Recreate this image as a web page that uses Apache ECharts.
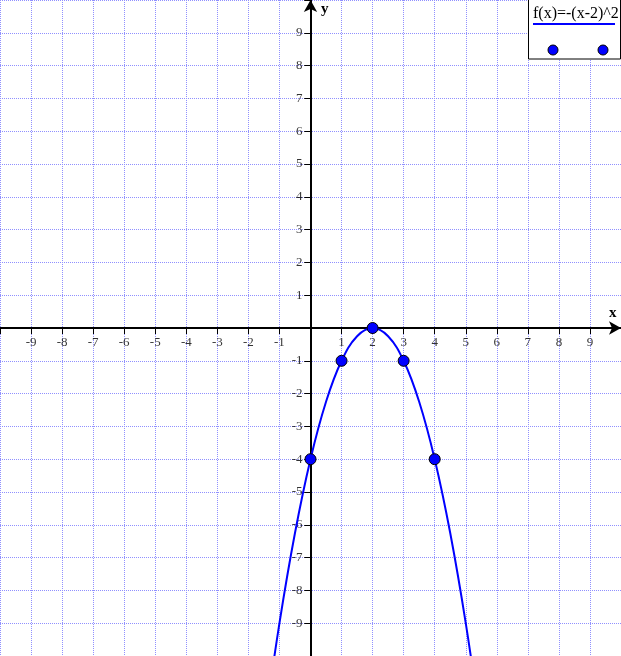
<!DOCTYPE html>
<html>
<head>
<meta charset="utf-8">
<script src="https://cdn.jsdelivr.net/npm/echarts@6/dist/echarts.min.js"></script>
<style>
  html, body { margin: 0; padding: 0; background: #fff; }
  #main { width: 621px; height: 656px; }
</style>
</head>
<body>
<div id="main"></div>
<script>
// points read along the curve f(x) = -(x-2)^2
var curveX = [-1.5, -1, -0.5, 0, 0.5, 1, 1.5, 2, 2.5, 3, 3.5, 4, 4.5, 5, 5.5];
var curveY = [-12.25, -9, -6.25, -4, -2.25, -1, -0.25, 0, -0.25, -1, -2.25, -4, -6.25, -9, -12.25];
// marked points
var pointX = [0, 1, 2, 3, 4];
var pointY = [-4, -1, 0, -1, -4];
// tick labels along the axes
var xTicks = [-9, -8, -7, -6, -5, -4, -3, -2, -1, 1, 2, 3, 4, 5, 6, 7, 8, 9];
var yTicks = [-9, -8, -7, -6, -5, -4, -3, -2, -1, 1, 2, 3, 4, 5, 6, 7, 8, 9];
var axisMin = -10, axisMax = 10, step = 1;
var legendText = 'f(x)=-(x-2)^2';

var serif = 'Liberation Serif';
var gridColor = '#9090ff';
var blue = '#0000ff';

function zip(xs, ys) {
    return xs.map(function (x, i) { return [x, ys[i]]; });
}

var chart = echarts.init(document.getElementById('main'));

var baseAxis = {
    type: 'value',
    min: axisMin,
    max: axisMax,
    interval: step
};

// tick labels are drawn as label-only scatter points sitting on the axes
function tickSeries(data, pos, dist, pick) {
    return {
        type: 'scatter',
        data: data,
        symbolSize: 0,
        silent: true,
        label: {
            show: true, position: pos, distance: dist,
            color: '#000', fontFamily: serif, fontSize: 13,
            formatter: function (p) { return String(p.value[pick]); }
        },
        z: 2
    };
}

var option = {
    backgroundColor: '#fff',
    animation: false,
    grid: { left: 0, right: 0, top: 0, bottom: 0, containLabel: false, outerBoundsMode: 'none' },
    xAxis: [
        Object.assign({}, baseAxis, {
            axisLine: { onZero: true, onZeroAxisIndex: 0, lineStyle: { color: '#000', width: 2 },
                symbol: ['none', 'arrow'], symbolSize: [10, 12] },
            axisTick: { show: true, inside: false, length: 6, lineStyle: { color: '#000', width: 1 } },
            axisLabel: { show: false },
            splitLine: { show: true, lineStyle: { color: gridColor, type: [1, 1], width: 1 } }
        }),
        Object.assign({}, baseAxis, {
            axisLine: { onZero: true, onZeroAxisIndex: 0, lineStyle: { color: '#000', width: 2 } },
            axisTick: { show: true, inside: true, length: 6, lineStyle: { color: '#000', width: 1 } },
            axisLabel: { show: false },
            splitLine: { show: false }
        })
    ],
    yAxis: [
        Object.assign({}, baseAxis, {
            axisLine: { onZero: true, onZeroAxisIndex: 0, lineStyle: { color: '#000', width: 2 },
                symbol: ['none', 'arrow'], symbolSize: [10, 12] },
            axisTick: { show: true, inside: false, length: 6, lineStyle: { color: '#000', width: 1 } },
            axisLabel: { show: false },
            splitLine: { show: true, lineStyle: { color: gridColor, type: [1, 1], width: 1 } }
        }),
        Object.assign({}, baseAxis, {
            axisLine: { onZero: true, onZeroAxisIndex: 0, lineStyle: { color: '#000', width: 2 } },
            axisTick: { show: true, inside: true, length: 6, lineStyle: { color: '#000', width: 1 } },
            axisLabel: { show: false },
            splitLine: { show: false }
        })
    ],
    series: [
        tickSeries(xTicks.map(function (v) { return [v, 0]; }), 'bottom', 8, 0),
        tickSeries(yTicks.map(function (v) { return [0, v]; }), 'left', 8, 1),
        {
            name: legendText,
            type: 'line',
            data: zip(curveX, curveY),
            smooth: 0.4,
            showSymbol: false,
            clip: true,
            lineStyle: { color: blue, width: 2 },
            z: 3
        },
        {
            type: 'scatter',
            data: zip(pointX, pointY),
            symbolSize: 11,
            itemStyle: { color: blue, borderColor: '#000', borderWidth: 1, opacity: 1 },
            z: 4
        }
    ],
    graphic: [
        { type: 'text', left: 321, top: 2, style: { text: 'y', font: 'bold 15px "Liberation Serif"', fill: '#000' } },
        { type: 'text', left: 609, top: 306, style: { text: 'x', font: 'bold 15px "Liberation Serif"', fill: '#000' } },
        { type: 'rect', shape: { x: 528.5, y: -1, width: 92, height: 60 },
          style: { fill: '#fff', stroke: '#000', lineWidth: 1 }, z: 10 },
        { type: 'text', x: 533, y: 6, style: { text: legendText, font: '16px "Liberation Serif"', fill: '#000' }, z: 11 },
        { type: 'line', shape: { x1: 533, y1: 24, x2: 615, y2: 24 },
          style: { stroke: blue, lineWidth: 2 }, z: 11 },
        { type: 'circle', shape: { cx: 553, cy: 50, r: 5 },
          style: { fill: blue, stroke: '#000', lineWidth: 1 }, z: 11 },
        { type: 'circle', shape: { cx: 603, cy: 50, r: 5 },
          style: { fill: blue, stroke: '#000', lineWidth: 1 }, z: 11 }
    ]
};

chart.setOption(option);
</script>
</body>
</html>
